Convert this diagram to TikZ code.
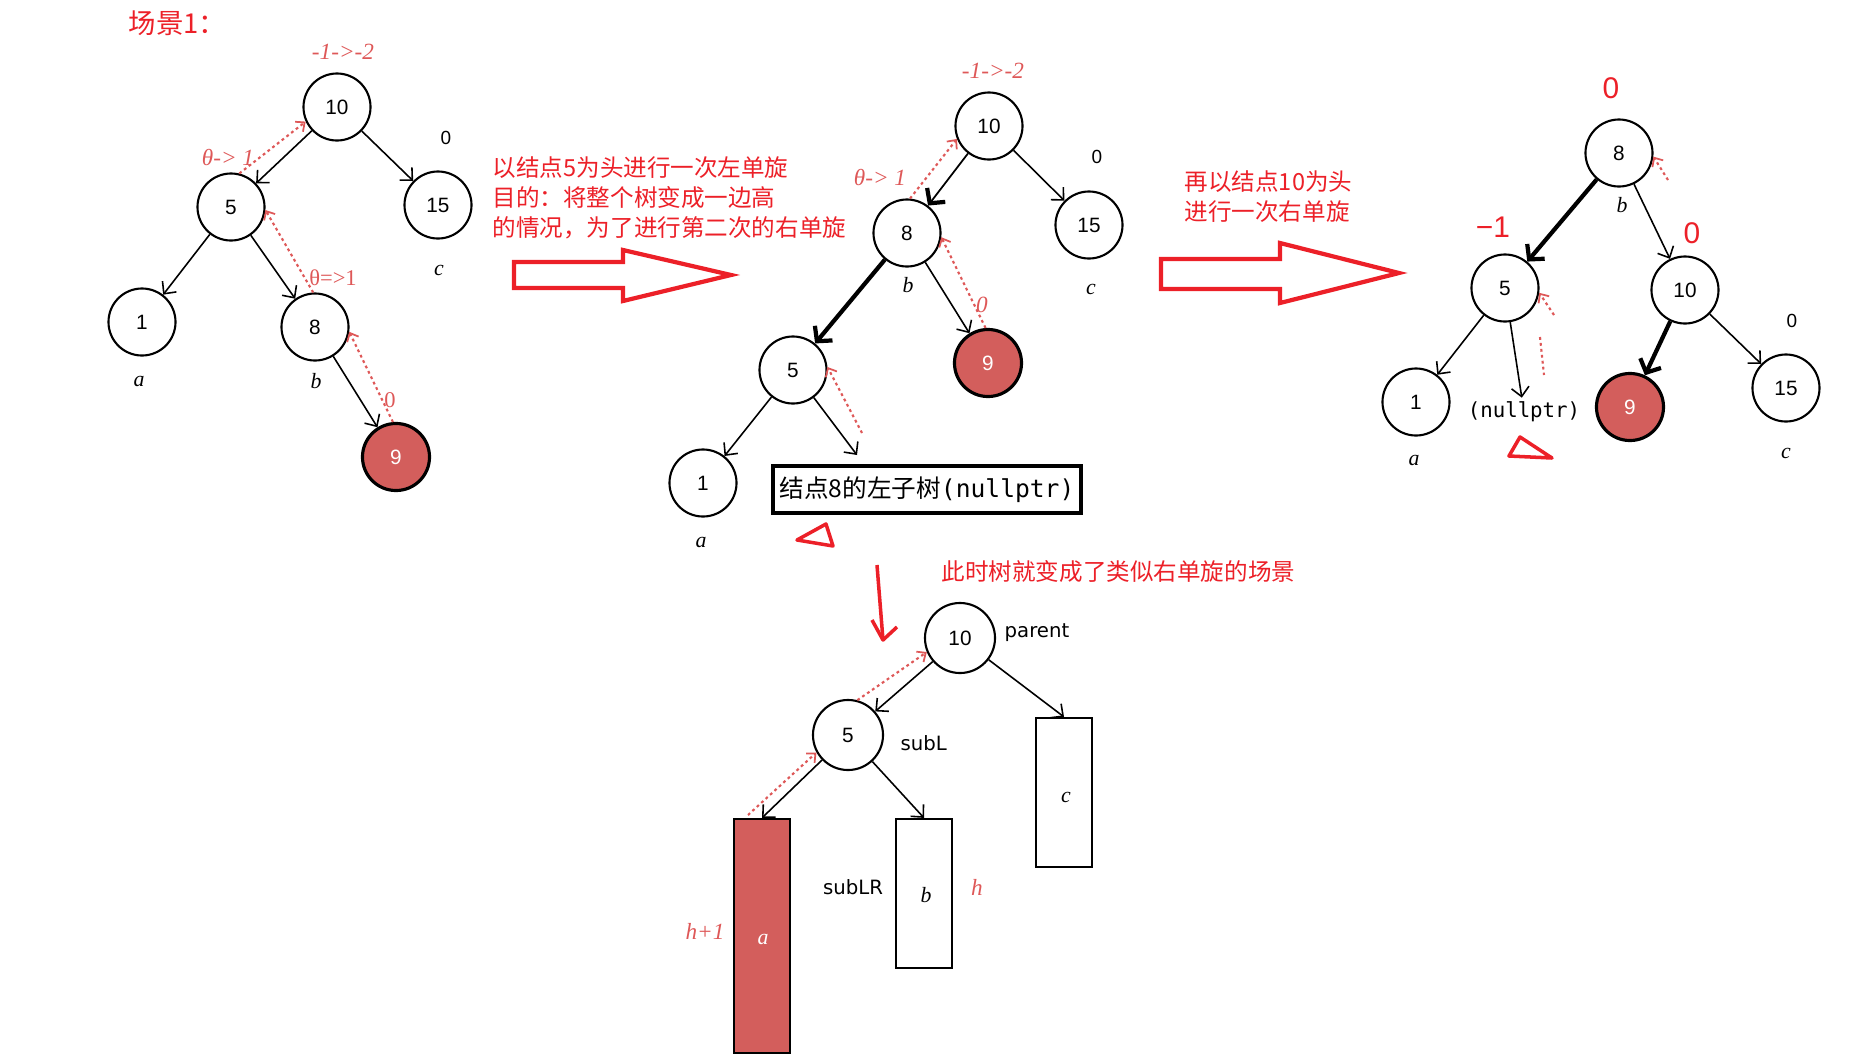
\documentclass[tikz,border=0pt]{standalone}
\usepackage{fontspec}
\setmainfont{Liberation Sans}
\newfontfamily\cjk{Noto Sans CJK SC}
\newfontfamily\dv{DejaVu Sans}
\newfontfamily\mono{DejaVu Sans Mono}
\newfontfamily\ser{Liberation Serif}
\usetikzlibrary{arrows.meta,calc}
\definecolor{rtxt}{RGB}{236,32,40}
\definecolor{rdot}{RGB}{222,88,88}
\definecolor{nfill}{RGB}{211,94,92}
\newcommand\myfs[1]{\fontsize{#1}{#1}\selectfont}
\tikzset{
  circ/.style={circle, draw, line width=0.6pt, minimum size=0.67cm, inner sep=0pt, font=\myfs{5.9pt}},
  redcirc/.style={circ, fill=nfill, text=white, line width=0.9pt},
  arr/.style={line width=0.45pt, -{Straight Barb[length=2.6pt,width=5pt]}},
  boldarr/.style={line width=1.2pt, -{Straight Barb[length=3pt,width=6.5pt]}},
  thinbold/.style={line width=0.5pt, -{Straight Barb[length=3pt,width=6.5pt,line width=1.2pt]}},
  rdotarr/.style={draw=rdot, dash pattern=on 0.8pt off 0.9pt, line width=0.6pt, -{Straight Barb[length=2pt,width=3.6pt,line width=0.5pt]}},
  rdotline/.style={draw=rdot, dash pattern=on 0.8pt off 0.9pt, line width=0.6pt},
  lab/.style={font=\ser\itshape\myfs{6.2pt}, inner sep=0pt},
  rlab/.style={text=rdot, font=\ser\itshape\myfs{6.6pt}, inner sep=0pt},
  rlabup/.style={text=rdot, font=\ser\myfs{6.4pt}, inner sep=0pt},
  zlab/.style={font=\myfs{5.4pt}, inner sep=0pt},
  note/.style={text=rtxt, font=\cjk\fontsize{6.7pt}{8.55pt}\selectfont, align=left, inner sep=0pt, anchor=west},
  bigR/.style={text=rtxt, font=\myfs{8.5pt}, inner sep=0pt},
  hollow/.style={draw=rtxt, line width=1.2pt, line join=miter},
  sublab/.style={font=\dv\myfs{5.6pt}, inner sep=0pt},
  rect/.style={draw, line width=0.6pt, inner sep=0pt}
}
\begin{document}
\begin{tikzpicture}[x=0.01cm, y=-0.01cm]
\useasboundingbox (0,0) rectangle (1865,1063);

% ---------- title ----------
\node[text=rtxt, font=\cjk\myfs{7.8pt}, inner sep=0pt, anchor=west] (title) at (128,23) {场景1：};

% ---------- tree 1 ----------
\node[circ] (a10) at (337,107) {10};
\node[circ] (a5) at (231,207) {5};
\node[circ] (a15) at (438,205) {15};
\node[circ] (a1) at (142,322) {1};
\node[circ] (a8) at (315,327) {8};
\node[redcirc] (a9) at (396,457) {9};
\draw[arr] (a10) -- (a5);
\draw[arr] (a10) -- (a15);
\draw[arr] (a5) -- (a1);
\draw[arr] (a5) -- (a8);
\draw[arr] (a8) -- (a9);
\draw[rdotarr] (a5.76) -- (a10.205);
\draw[rdotarr] (a8.93) -- (a5.355);
\draw[rdotarr] (a9.95) -- (a8.352);
\node[rlab] (la1) at (343,52) {-1->-2};
\node[rlab] (la2) at (228,157) {θ-> 1};
\node[rlabup] (la3) at (333,278) {θ=>1};
\node[rlabup] (la4) at (390,400) {0};
\node[zlab] (la5) at (446,138) {0};
\node[lab] (lac) at (439,270) {c};
\node[lab] (laa) at (139,381) {a};
\node[lab] (lab) at (316,381) {b};

% ---------- note 1 and arrow 1 ----------
\node[note] (note1) at (492,198) {以结点5为头进行一次左单旋\\目的：将整个树变成一边高\\的情况，为了进行第二次的右单旋};
\draw[hollow] (514,262) -- (623,262) -- (623,250) -- (731,275) -- (623,301) -- (623,288) -- (514,288) -- cycle;

% ---------- tree 2 ----------
\node[circ] (b10) at (989,126) {10};
\node[circ] (b15) at (1089,225) {15};
\node[circ] (b8) at (907,233) {8};
\node[redcirc] (b9) at (988,363) {9};
\node[circ] (b5) at (793,370) {5};
\node[circ] (b1) at (703,483) {1};
\node[draw, line width=1.2pt, minimum width=3.08cm, minimum height=0.47cm, inner sep=0pt, font=\cjk\myfs{7pt}] (bbox) at (927,489.5) {结点8的左子树{\mono\myfs{7pt}(nullptr)}};
\coordinate (bnl) at (857,455);
\draw[thinbold] (b10) -- (b8);
\draw[arr] (b10) -- (b15);
\draw[boldarr] (b8) -- (b5);
\draw[arr] (b8) -- (b9);
\draw[arr] (b5) -- (b1);
\draw[arr] (b5) -- (bnl);
\draw[rdotarr] (b8.85) -- (b10.202);
\draw[rdotarr] (b9.94) -- (b8.353);
\coordinate (bd3) at (862,433);
\draw[rdotarr] (bd3) -- (b5.5);
\node[rlab] (lb1) at (993,71) {-1->-2};
\node[rlab] (lb2) at (880,177) {θ-> 1};
\node[zlab] (lb3) at (1097,157) {0};
\node[lab] (lbc) at (1091,289) {c};
\node[lab] (lbb) at (908,285) {b};
\node[rlab] (lb4) at (982,305) {0};
\node[lab] (lba) at (701,542) {a};
\draw[rtxt, line width=1pt, line join=round] (797,540) -- (826,524) -- (833,546) -- cycle;

% ---------- note 2 and arrow 2 ----------
\node[note] (note2) at (1184,197) {再以结点10为头\\进行一次右单旋};
\draw[hollow] (1161,259) -- (1280,259) -- (1280,243) -- (1399,273) -- (1280,303) -- (1280,289) -- (1161,289) -- cycle;

% ---------- tree 3 ----------
\node[circ] (c8) at (1619,153) {8};
\node[circ] (c5) at (1505,288) {5};
\node[circ] (c10) at (1685,290) {10};
\node[circ] (c1) at (1416,402) {1};
\node[redcirc] (c9) at (1630,407) {9};
\node[circ] (c15) at (1786,388) {15};
\node[font=\mono\myfs{5.9pt}, inner sep=1pt] (cnull) at (1524,412) {(nullptr)};
\draw[boldarr] (c8) -- (c5);
\draw[arr] (c8) -- (c10);
\draw[boldarr] (c10) -- (c9);
\draw[arr] (c10) -- (c15);
\draw[arr] (c5) -- (c1);
\draw[arr] (c5) -- (cnull);
\coordinate (cd1) at (1554,315);
\draw[rdotarr] (cd1) -- (c5.-8);
\coordinate (cd2) at (1540,337);
\coordinate (cd3) at (1544,375);
\draw[rdotline] (cd2) -- (cd3);
\coordinate (cd4) at (1668,180);
\draw[rdotarr] (cd4) -- (c8.-6);
\node[bigR] (lc1) at (1611,88) {0};
\node[bigR] (lc2) at (1493,227) {−1};
\node[bigR] (lc3) at (1692,233) {0};
\node[lab] (lcb) at (1622,205) {b};
\node[zlab] (lc4) at (1792,321) {0};
\node[lab] (lca) at (1414,460) {a};
\node[lab] (lcc) at (1786,453) {c};
\draw[rtxt, line width=1pt, line join=round] (1509,456) -- (1520,437) -- (1552,458) -- cycle;

% ---------- note 3 and down arrow ----------
\node[note] (note3) at (941,572) {此时树就变成了类似右单旋的场景};
\coordinate (dA) at (877,565);
\coordinate (dB) at (883,640);
\draw[rtxt, line width=1pt] (dA) -- (dB);
\draw[rtxt, line width=1pt, line join=round] (872,620) -- (dB) -- (897,627);

% ---------- bottom tree ----------
\node[circ, minimum size=0.70cm] (d10) at (960,638) {10};
\node[circ, minimum size=0.70cm] (d5) at (848,735) {5};
\node[rect, fill=nfill, minimum width=0.56cm, minimum height=2.34cm] (ra) at (762,936) {};
\node[rect, minimum width=0.56cm, minimum height=1.49cm] (rb) at (924,893.5) {};
\node[rect, minimum width=0.56cm, minimum height=1.49cm] (rc) at (1064,792.5) {};
\draw[arr] (d10) -- (d5);
\draw[arr] (d10) -- (rc.north);
\draw[arr] (d5) -- (ra.north);
\draw[arr] (d5) -- (rb.north);
\draw[rdotarr] (d5.75) -- (d10.203);
\coordinate (dd1) at (748,815);
\draw[rdotarr] (dd1) -- (d5.209);
\node[sublab, anchor=west] (lparent) at (1004,633) {parent};
\node[sublab, anchor=west] (lsubl) at (900,743) {subL};
\node[sublab] (lsublr) at (853,887) {subLR};
\node[rlab] (lh) at (977,887) {h};
\node[rlab] (lh1) at (705,931) {h+1};
\node[lab, text=white] (lda) at (763,939) {a};
\node[lab] (ldb) at (926,895) {b};
\node[lab] (ldc) at (1066,797) {c};
\end{tikzpicture}
\end{document}
